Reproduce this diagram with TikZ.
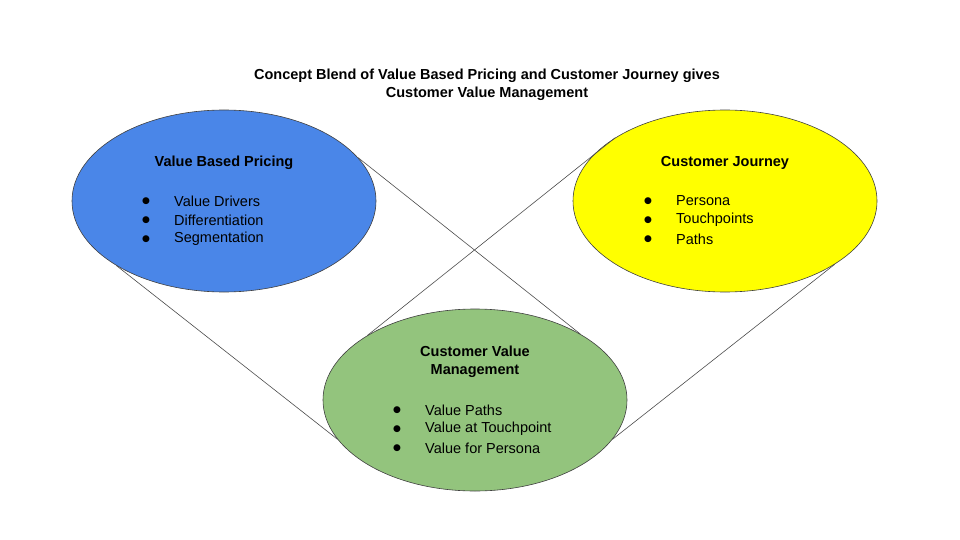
\documentclass[tikz,border=0pt]{standalone}
\usepackage{fontspec}
\setmainfont{Liberation Sans}
\newfontfamily\bul{DejaVu Sans}
\usetikzlibrary{shapes.geometric}
\definecolor{cblue}{HTML}{4A86E8}
\definecolor{cyel}{HTML}{FFFF00}
\definecolor{cgrn}{HTML}{93C47D}
\begin{document}
\begin{tikzpicture}[x=1pt,y=-1pt,
  ell/.style={ellipse,draw=black!75,line width=0.6pt,inner sep=0,minimum width=304pt,minimum height=182pt},
  ln/.style={draw=black!70,line width=0.6pt},
  ttl/.style={font=\fontsize{14.5}{18}\selectfont\bfseries,align=center},
  txt/.style={font=\fontsize{14.5}{17}\selectfont,anchor=west,inner sep=0},
  bu/.style={font=\bul\fontsize{9}{10}\selectfont,inner sep=0}]
\useasboundingbox (0,0) rectangle (960,540);
\node[ell,fill=cgrn] (g) at (475,400) {};
\node[ell,fill=cblue] (b) at (224,201) {};
\node[ell,fill=cyel] (y) at (725,201) {};
\draw[ln] (b.18.7) -- (g.32);
\draw[ln] (b.211) -- (g.196);
\draw[ln] (y.150) -- (g.149);
\draw[ln] (y.330) -- (g.344);
\node[ttl] (t) at (487,85) {Concept Blend of Value Based Pricing and Customer Journey gives\\Customer Value Management};
\node[ttl] (bt) at (224,163) {Value Based Pricing};
\node[ttl] (yt) at (725,163) {Customer Journey};
\node[ttl] (gt) at (475,362) {Customer Value\\Management};
\foreach \n/\x/\y/\s in {b1/146/201/Value Drivers,b2/146/220/Differentiation,b3/146/239/Segmentation,
  y1/648/201/Persona,y2/648/220/Touchpoints,y3/648/239/Paths,
  g1/397/410/Value Paths,g2/397/429/Value at Touchpoint,g3/397/448/Value for Persona}{
  \node[bu] (\n d) at (\x,\y) {●};
  \node[txt] (\n) at (\x+28,\y) {\s};
}
\end{tikzpicture}
\end{document}
